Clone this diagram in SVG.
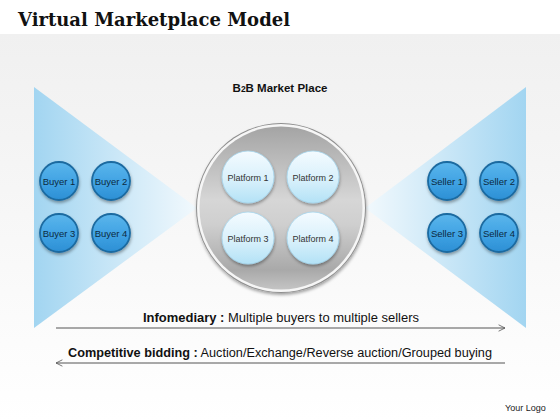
<svg xmlns="http://www.w3.org/2000/svg" width="560" height="420" viewBox="0 0 560 420">
<defs>
<linearGradient id="bg" x1="0" y1="0" x2="0" y2="1"><stop offset="0" stop-color="#f0f0f0"/><stop offset="1" stop-color="#ffffff"/></linearGradient>
<linearGradient id="triL" x1="0" y1="0" x2="1" y2="0"><stop offset="0" stop-color="#a2d5f1"/><stop offset="1" stop-color="#f2f9fd"/></linearGradient>
<linearGradient id="triR" x1="1" y1="0" x2="0" y2="0"><stop offset="0" stop-color="#a2d5f1"/><stop offset="1" stop-color="#f2f9fd"/></linearGradient>
<linearGradient id="blue" x1="0" y1="0" x2="0" y2="1"><stop offset="0" stop-color="#5cb6ec"/><stop offset="0.55" stop-color="#3fa2e3"/><stop offset="1" stop-color="#2c8fd4"/></linearGradient>
<linearGradient id="pale" x1="0" y1="0" x2="0" y2="1"><stop offset="0" stop-color="#f4fbff"/><stop offset="0.55" stop-color="#d8f0fb"/><stop offset="1" stop-color="#b3e2f6"/></linearGradient>
<linearGradient id="gray" x1="0" y1="0" x2="0" y2="1"><stop offset="0" stop-color="#a4a4a4"/><stop offset="0.45" stop-color="#d6d6d6"/><stop offset="0.6" stop-color="#cfcfcf"/><stop offset="0.88" stop-color="#a9a9a9"/><stop offset="1" stop-color="#c4c4c4"/></linearGradient>
<filter id="sh" x="-30%" y="-30%" width="160%" height="160%"><feDropShadow dx="0.5" dy="2" stdDeviation="1.5" flood-color="#000" flood-opacity="0.35"/></filter>
<marker id="ah" viewBox="0 0 10 10" refX="9" refY="5" markerWidth="8" markerHeight="8" orient="auto-start-reverse" markerUnits="userSpaceOnUse"><path d="M1,1 L9,5 L1,9" fill="none" stroke="#555" stroke-width="1"/></marker>
</defs>
<style>
.t{font-family:"Liberation Sans",Arial,sans-serif;}
.bt{fill:url(#blue);stroke:#1b6aa0;stroke-width:1.8;filter:url(#sh);}
.pt{fill:url(#pale);stroke:#a4d6ee;stroke-width:0.8;filter:url(#sh);}
.bl{font-family:"Liberation Sans",Arial,sans-serif;font-size:9.5px;fill:#0d2a40;text-anchor:middle;}
.pl{font-family:"Liberation Sans",Arial,sans-serif;font-size:9px;fill:#333;text-anchor:middle;}
.ln{stroke:#555;stroke-width:1;fill:none;}
</style>
<rect width="560" height="420" fill="#ffffff"/>
<rect x="0" y="34" width="560" height="386" fill="url(#bg)"/>
<text x="18" y="26" font-family="Rockwell,'DejaVu Serif','Liberation Serif',serif" font-weight="bold" font-size="18.5" fill="#111" textLength="272" lengthAdjust="spacingAndGlyphs">Virtual Marketplace Model</text>
<text x="280" y="92" class="t" font-weight="bold" font-size="11.5" fill="#111" text-anchor="middle">B<tspan font-size="8.5">2</tspan>B Market Place</text>
<polygon points="34,87 34,328 197,208" fill="url(#triL)"/>
<polygon points="526,87 526,328 365,208" fill="url(#triR)"/>
<g id="marketplace">
<circle cx="281" cy="208" r="85" fill="#8f8f8f" filter="url(#sh)"/>
<circle cx="281" cy="208" r="84" fill="#f6f6f6"/>
<circle cx="281" cy="208" r="81.5" fill="url(#gray)"/>
</g>
<g id="buyer1"><circle class="bt" cx="59" cy="181" r="19"/><text class="bl" x="59" y="184.5">Buyer 1</text></g>
<g id="buyer2"><circle class="bt" cx="111" cy="181" r="19"/><text class="bl" x="111" y="184.5">Buyer 2</text></g>
<g id="buyer3"><circle class="bt" cx="59" cy="233" r="19"/><text class="bl" x="59" y="236.5">Buyer 3</text></g>
<g id="buyer4"><circle class="bt" cx="111" cy="233" r="19"/><text class="bl" x="111" y="236.5">Buyer 4</text></g>
<g id="platform1"><circle class="pt" cx="248" cy="177" r="26"/><text class="pl" x="248" y="180.5">Platform 1</text></g>
<g id="platform2"><circle class="pt" cx="313" cy="177" r="26"/><text class="pl" x="313" y="180.5">Platform 2</text></g>
<g id="platform3"><circle class="pt" cx="248" cy="238" r="26"/><text class="pl" x="248" y="241.5">Platform 3</text></g>
<g id="platform4"><circle class="pt" cx="313" cy="238" r="26"/><text class="pl" x="313" y="241.5">Platform 4</text></g>
<g id="seller1"><circle class="bt" cx="447" cy="181" r="19"/><text class="bl" x="447" y="184.5">Seller 1</text></g>
<g id="seller2"><circle class="bt" cx="499" cy="181" r="19"/><text class="bl" x="499" y="184.5">Seller 2</text></g>
<g id="seller3"><circle class="bt" cx="447" cy="233" r="19"/><text class="bl" x="447" y="236.5">Seller 3</text></g>
<g id="seller4"><circle class="bt" cx="499" cy="233" r="19"/><text class="bl" x="499" y="236.5">Seller 4</text></g>
<g id="connectors">
<line class="ln" x1="56" y1="328" x2="505" y2="328" marker-end="url(#ah)"/>
<line class="ln" x1="505" y1="363" x2="56" y2="363" marker-end="url(#ah)"/>
</g>
<text x="281" y="322" class="t" font-size="12.5" fill="#111" text-anchor="middle" textLength="276" lengthAdjust="spacingAndGlyphs"><tspan font-weight="bold">Infomediary :</tspan> Multiple buyers to multiple sellers</text>
<text x="280" y="357" class="t" font-size="12.5" fill="#111" text-anchor="middle" textLength="424" lengthAdjust="spacingAndGlyphs"><tspan font-weight="bold">Competitive bidding :</tspan> Auction/Exchange/Reverse auction/Grouped buying</text>
<text x="505" y="411" class="t" font-size="9" fill="#222">Your Logo</text>
</svg>
